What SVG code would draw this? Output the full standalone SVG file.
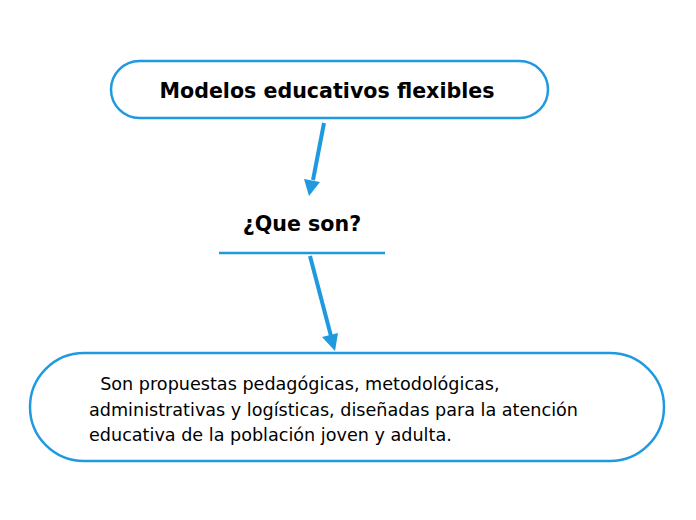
<svg xmlns="http://www.w3.org/2000/svg" width="696" height="520" viewBox="0 0 696 520">
<style>
.node{fill:#fff;stroke:#1f9ae0;stroke-width:2.5}
.t{font-family:"DejaVu Sans",Verdana,sans-serif;fill:#000}
.b{font-weight:bold;font-size:20.6px}
.n{font-size:17.6px}
.c{stroke:#1f9ae0;stroke-width:4;fill:none}
.h{fill:#1f9ae0}
</style>
<rect width="696" height="520" fill="#fff"/>
<g id="node-modelos">
<rect class="node" x="111" y="61" width="437" height="57" rx="28.5"/>
<text class="t b" x="327" y="98" text-anchor="middle">Modelos educativos flexibles</text>
</g>
<g id="node-queson">
<text class="t b" x="302" y="231" text-anchor="middle">¿Que son?</text>
<line x1="219" y1="253" x2="385" y2="253" stroke="#1f9ae0" stroke-width="2.5"/>
</g>
<g id="node-def">
<rect class="node" x="30" y="353" width="634" height="108" rx="54"/>
<text class="t n" xml:space="preserve"><tspan x="89" y="390">  Son propuestas pedagógicas, metodológicas,</tspan><tspan x="89" y="416">administrativas y logísticas, diseñadas para la atención</tspan><tspan x="89" y="441">educativa de la población joven y adulta.</tspan></text>
</g>
<g id="connectors">
<line class="c" x1="324" y1="123" x2="313" y2="180"/>
<polygon class="h" points="304,179 320,182 309,196"/>
<line class="c" x1="310" y1="256" x2="331" y2="336"/>
<polygon class="h" points="322,337 338,333 335,351"/>
</g>
</svg>
